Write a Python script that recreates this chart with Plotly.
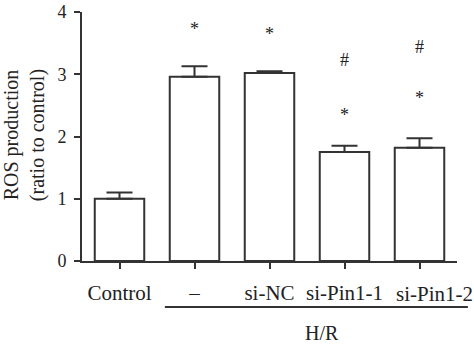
import plotly.graph_objects as go

# Group labels, mean ROS ratios and SEM
groups = ["Control", "–", "si-NC", "si-Pin1-1", "si-Pin1-2"]
ros_ratio = [1.00, 2.96, 3.02, 1.75, 1.82]
ros_sem = [0.10, 0.17, 0.03, 0.10, 0.15]

# Significance marks: (group index, y position, symbol)
star_marks = [(1, 3.72, "*"), (2, 3.64, "*"), (3, 2.34, "*"), (4, 2.62, "*")]
hash_marks = [(3, 3.23, "#"), (4, 3.43, "#")]

line_col = "#333333"
text_col = "#222222"
serif = "Liberation Serif, Times New Roman, serif"

fig = go.Figure(
    go.Bar(
        x=list(range(len(groups))),
        y=ros_ratio,
        width=0.66,
        marker=dict(color="white", line=dict(color=line_col, width=2)),
        error_y=dict(
            type="data",
            symmetric=False,
            array=ros_sem,
            arrayminus=[0] * len(ros_sem),
            color=line_col,
            thickness=2,
            width=13,
        ),
    )
)

annotations = []
for i, yv, sym in star_marks + hash_marks:
    annotations.append(
        dict(x=i, y=yv, xref="x", yref="y", text=sym, showarrow=False,
             font=dict(family=serif, size=18, color=text_col),
             xanchor="center", yanchor="middle")
    )

# Last group label sits a little right of its tick
annotations.append(
    dict(x=len(groups) - 1, y=0, xref="x", yref="y", text=groups[-1],
         showarrow=False, xanchor="center", yanchor="top",
         xshift=15, yshift=-19,
         font=dict(family=serif, size=21, color=text_col))
)

# Y-axis title
annotations.append(
    dict(x=-0.155, y=0.505, xref="paper", yref="paper",
         text="ROS production<br>(ratio to control)", textangle=-90,
         showarrow=False, xanchor="center", yanchor="middle",
         font=dict(family=serif, size=20, color=text_col))
)
# Treatment group label under the bracket
annotations.append(
    dict(x=0.64, y=-0.289, xref="paper", yref="paper", text="H/R",
         showarrow=False, xanchor="center", yanchor="middle",
         font=dict(family=serif, size=20, color=text_col))
)

fig.update_layout(
    width=474,
    height=346,
    margin=dict(l=82, r=17, t=12, b=85),
    paper_bgcolor="white",
    plot_bgcolor="white",
    showlegend=False,
    bargap=0.34,
    annotations=annotations,
    shapes=[
        dict(type="line", xref="paper", yref="paper",
             x0=0.221, x1=1.029, y0=-0.185, y1=-0.185,
             line=dict(color=line_col, width=2))
    ],
    xaxis=dict(
        range=[-0.5, 4.5],
        tickmode="array",
        tickvals=list(range(len(groups))),
        ticktext=groups[:-1] + [""],
        tickangle=0,
        automargin=False,
        ticks="outside",
        ticklen=6,
        tickwidth=2,
        tickcolor=line_col,
        showline=True,
        linecolor=line_col,
        linewidth=2,
        showgrid=False,
        zeroline=False,
        tickfont=dict(family=serif, size=21, color=text_col),
        ticklabelstandoff=6,
    ),
    yaxis=dict(
        range=[0, 4],
        tickvals=[0, 1, 2, 3, 4],
        automargin=False,
        ticks="outside",
        ticklen=6,
        tickwidth=2,
        tickcolor=line_col,
        showline=True,
        linecolor=line_col,
        linewidth=2,
        showgrid=False,
        zeroline=False,
        tickfont=dict(family=serif, size=18, color=text_col),
        ticklabelstandoff=4,
    ),
)

fig.write_html("out.html")
